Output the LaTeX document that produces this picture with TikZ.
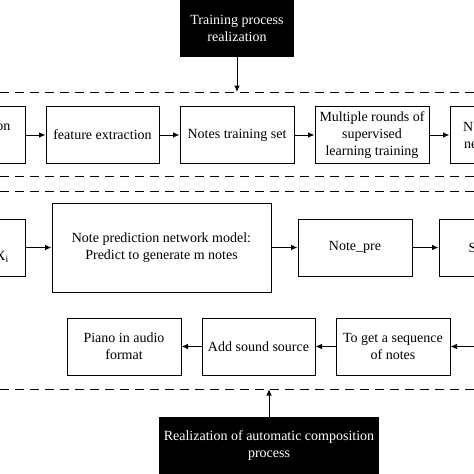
\documentclass[tikz,border=0pt]{standalone}
\usepackage{fontspec}
\setmainfont{Liberation Serif}
\usetikzlibrary{arrows.meta, positioning}

\begin{document}
\begin{tikzpicture}[
        x=1pt, y=-1pt,
        every node/.style={font=\fontsize{14}{17}\selectfont},
        stage/.style={draw, line width=1pt, align=center, minimum width=114pt, minimum height=57pt, inner sep=2pt},
        banner/.style={fill=black, text=white, align=center, minimum width=114pt, minimum height=57pt, inner sep=2pt},
        cut/.style={inner sep=0pt, align=left},
        flow/.style={-{Latex[length=6.5pt,width=5.5pt]}, line width=1pt},
        divider/.style={dash pattern=on 9pt off 6pt, line width=1pt}
      ]
      \useasboundingbox (0,0) rectangle (474,474);
      \clip (0,0) rectangle (474,474);

      % Training part
      \node[banner] (trainBanner) at (237, 28.5) {Training process\\realization};
      \draw[divider] (0, 92) -- (474, 92);
      \coordinate (trainLine) at (237, 92);
      \draw[flow] (trainBanner) -- (trainLine);

      \node[stage] (collect) at (-32, 135) {};
      \node[cut, anchor=east] (collectText) at (10.5, 127) {on};
      \node[stage, minimum width=113pt] (feature) at (102.5, 135) {feature extraction};
      \node[stage] (trainSet) at (237, 135) {Notes training set};
      \node[stage] (rounds) at (372, 135) {Multiple rounds of\\supervised\\learning training};
      \node[stage] (netModel) at (507, 135) {};
      \node[cut, anchor=west] (netModelText) at (463, 135.5) {N\\\hspace{1pt}ne};

      \draw[flow] (collect) -- (feature);
      \draw[flow] (feature) -- (trainSet);
      \draw[flow] (trainSet) -- (rounds);
      \draw[flow] (rounds) -- (netModel);

      \draw[divider] (0, 176) -- (474, 176);
      \draw[divider] (0, 191) -- (474, 191);

      % Composition part
      \node[stage] (input) at (-32, 247.5) {};
      \node[cut, anchor=east] (inputText) at (9, 257) {X\textsubscript{i}};
      \node[stage, minimum width=219pt, minimum height=89pt] (predict) at (161.5, 247.5) {Note prediction network model:\\Predict to generate m notes};
      \node[stage] (notePre) at (355, 247.5) {Note\_pre};
      \node[stage] (sBox) at (496, 247.5) {};
      \node[cut, anchor=west] (sBoxText) at (468.5, 248) {S};

      \draw[flow] (input) -- (predict);
      \draw[flow] (predict) -- (notePre);
      \draw[flow] (notePre) -- (sBox);

      \node[stage] (piano) at (124, 346.5) {Piano in audio\\format};
      \node[stage, minimum width=113pt] (sound) at (258.5, 346.5) {Add sound source};
      \node[stage] (sequence) at (393, 346.5) {To get a sequence\\of notes};
      \coordinate (fromRight) at (480, 346.5);

      \draw[flow] (fromRight) -- (sequence);
      \draw[flow] (sequence) -- (sound);
      \draw[flow] (sound) -- (piano);

      \draw[divider] (0, 389) -- (474, 389);
      \node[banner, minimum width=220pt] (composeBanner) at (269, 445.5) {Realization of automatic composition\\process};
      \coordinate (composeLine) at (269, 389);
      \draw[flow] (composeBanner) -- (composeLine);
\end{tikzpicture}
\end{document}
